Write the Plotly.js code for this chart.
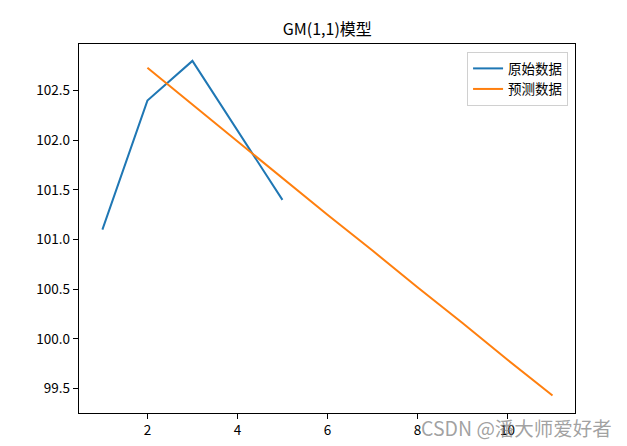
<!DOCTYPE html>
<html>
<head>
<meta charset="utf-8">
<script src="https://cdn.plot.ly/plotly-3.0.1.min.js"></script>
<style>
  html, body { margin: 0; padding: 0; background: #fff; }
  #chart { width: 627px; height: 446px; }
</style>
</head>
<body>
<div id="chart"></div>
<script>
// 原始数据
const xRaw = [1, 2, 3, 4, 5];
const yRaw = [101.1, 102.4, 102.8, 102.1, 101.4];

// 预测数据
const xPred = [2, 3, 4, 5, 6, 7, 8, 9, 10, 11];
const yPred = [102.73, 102.36, 101.99, 101.62, 101.25, 100.89, 100.52, 100.16, 99.79, 99.43];

const xTicks = [2, 4, 6, 8, 10];
const yTicks = [99.5, 100.0, 100.5, 101.0, 101.5, 102.0, 102.5];

const font = '"Noto Sans CJK SC", "DejaVu Sans", sans-serif';

const data = [
  {
    type: 'scatter',
    mode: 'lines',
    x: xRaw,
    y: yRaw,
    name: '原始数据',
    line: { color: '#1f77b4', width: 2 }
  },
  {
    type: 'scatter',
    mode: 'lines',
    x: xPred,
    y: yPred,
    name: '预测数据',
    line: { color: '#ff7f0e', width: 2 }
  }
];

const axisCommon = {
  showgrid: false,
  zeroline: false,
  showline: true,
  mirror: true,
  linecolor: '#000',
  linewidth: 1.2,
  ticks: 'outside',
  ticklen: 5,
  tickwidth: 1,
  tickcolor: '#000',
  tickfont: { family: font, size: 13.5, color: '#000' }
};

const layout = {
  width: 627,
  height: 446,
  margin: { l: 79, r: 52, t: 44, b: 33 },
  paper_bgcolor: '#fff',
  plot_bgcolor: '#fff',
  font: { family: font, color: '#000' },
  title: {
    text: 'GM(1,1)模型',
    font: { family: font, size: 16, color: '#000' },
    x: 0.522,
    xanchor: 'center',
    y: 0.935,
    yanchor: 'middle'
  },
  xaxis: Object.assign({}, axisCommon, {
    range: [0.48, 11.5],
    tickvals: xTicks,
    ticktext: xTicks.map(String)
  }),
  yaxis: Object.assign({}, axisCommon, {
    range: [99.254, 102.97],
    tickvals: yTicks,
    ticktext: yTicks.map(v => v.toFixed(1))
  }),
  showlegend: true,
  legend: {
    x: 0.986,
    y: 0.978,
    xanchor: 'right',
    yanchor: 'top',
    bgcolor: 'rgba(255,255,255,0.8)',
    bordercolor: '#d0d0d0',
    borderwidth: 1,
    font: { family: font, size: 13.5, color: '#000' },
    tracegroupgap: 0
  },
  annotations: [
    {
      text: 'CSDN @潘大师爱好者',
      xref: 'paper',
      yref: 'paper',
      x: 1.078,
      y: -0.04,
      xanchor: 'right',
      yanchor: 'middle',
      showarrow: false,
      font: { family: font, size: 19.5, color: 'rgba(120,120,120,0.7)' }
    }
  ]
};

Plotly.newPlot('chart', data, layout, { displayModeBar: false, staticPlot: true });
</script>
</body>
</html>
